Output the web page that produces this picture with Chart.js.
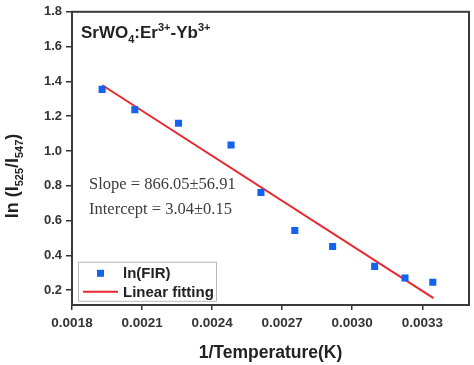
<!DOCTYPE html>
<html>
<head>
<meta charset="utf-8">
<script src="https://cdn.jsdelivr.net/npm/chart.js@4/dist/chart.umd.min.js"></script>
<style>
  html, body { margin: 0; padding: 0; background: #fff; }
  #wrap { width: 474px; height: 365px; }
</style>
</head>
<body>
<div id="wrap"><canvas id="c" width="474" height="365"></canvas></div>
<script>
// ---- data ----
const invT   = [0.001929, 0.002069, 0.002256, 0.002481, 0.002609, 0.002754, 0.002916, 0.003096, 0.003226, 0.003345];
const lnFIR  = [1.354, 1.237, 1.160, 1.035, 0.762, 0.543, 0.451, 0.337, 0.270, 0.246];
const fitX   = [0.001930, 0.003348];
const fitY   = [1.378, 0.155];
const xTicks = [0.0018, 0.0021, 0.0024, 0.0027, 0.0030, 0.0033];
const yTicks = [0.2, 0.4, 0.6, 0.8, 1.0, 1.2, 1.4, 1.6, 1.8];
const seriesNames = ['ln(FIR)', 'Linear fitting'];
const fitNotes = ['Slope = 866.05\u00b156.91', 'Intercept = 3.04\u00b10.15'];

const BLUE = '#1462f0';
const RED = '#e8272e';
const AX = '#333333';
const SANS = '"Liberation Sans", Arial, sans-serif';
const SERIF = '"Liberation Serif", "Times New Roman", serif';

// draw rich text: parts = [[text, 'n'|'sub'|'sup'], ...]
function richText(ctx, x, y, parts, size) {
  let cx = x;
  for (const [t, kind] of parts) {
    if (kind === 'n') {
      ctx.font = 'bold ' + size + 'px ' + SANS;
      ctx.fillText(t, cx, y);
    } else {
      const s = Math.round(size * 0.62);
      ctx.font = 'bold ' + s + 'px ' + SANS;
      const dy = kind === 'sub' ? size * 0.28 : -size * 0.42;
      ctx.fillText(t, cx, y + dy);
    }
    cx += ctx.measureText(t).width;
  }
  return cx - x;
}
function richWidth(ctx, parts, size) {
  let w = 0;
  for (const [t, kind] of parts) {
    const s = kind === 'n' ? size : Math.round(size * 0.62);
    ctx.font = 'bold ' + s + 'px ' + SANS;
    w += ctx.measureText(t).width;
  }
  return w;
}

const decor = {
  id: 'decor',
  afterDraw(chart) {
    const ctx = chart.ctx;
    const a = chart.chartArea;
    ctx.save();
    // frame
    ctx.strokeStyle = '#3a3a3a';
    ctx.lineWidth = 2;
    ctx.strokeRect(a.left, a.top, a.right - a.left, a.bottom - a.top);

    // sample title
    ctx.fillStyle = '#222';
    ctx.textBaseline = 'alphabetic';
    ctx.textAlign = 'left';
    richText(ctx, a.left + 9, a.top + 26, [['SrWO', 'n'], ['4', 'sub'], [':Er', 'n'], ['3+', 'sup'], ['-Yb', 'n'], ['3+', 'sup']], 17);

    // y-axis title (rotated)
    const yParts = [['ln (I', 'n'], ['525', 'sub'], ['/I', 'n'], ['547', 'sub'], [')', 'n']];
    const yw = richWidth(ctx, yParts, 18);
    ctx.save();
    ctx.translate(18, 176);
    ctx.rotate(-Math.PI / 2);
    ctx.fillStyle = '#222';
    richText(ctx, -yw / 2, 0, yParts, 18);
    ctx.restore();

    // fit notes
    ctx.fillStyle = '#3c3c3c';
    ctx.font = '16.5px ' + SERIF;
    ctx.fillText(fitNotes[0], a.left + 17, a.top + 177);
    ctx.fillText(fitNotes[1], a.left + 17, a.top + 202);

    // legend box
    const lx = a.left + 6, ly = a.top + 250, lw = 138, lh = 39;
    ctx.fillStyle = '#fff';
    ctx.fillRect(lx, ly, lw, lh);
    ctx.strokeStyle = '#b8b8b8';
    ctx.lineWidth = 1;
    ctx.strokeRect(lx + 0.5, ly + 0.5, lw, lh);
    const ds0 = chart.data.datasets[0], ds1 = chart.data.datasets[1];
    ctx.fillStyle = ds0.backgroundColor;
    ctx.fillRect(lx + 19, ly + 8, 7, 7);
    ctx.strokeStyle = ds1.borderColor;
    ctx.lineWidth = 2;
    ctx.beginPath();
    ctx.moveTo(lx + 5, ly + 30);
    ctx.lineTo(lx + 40, ly + 30);
    ctx.stroke();
    ctx.fillStyle = '#222';
    ctx.font = 'bold 15px ' + SANS;
    ctx.fillText(ds0.label, lx + 45, ly + 16.5);
    ctx.fillText(ds1.label, lx + 45, ly + 35);
    ctx.restore();
  }
};

new Chart(document.getElementById('c'), {
  type: 'scatter',
  data: {
    datasets: [
      {
        label: seriesNames[0],
        data: invT.map((x, i) => ({ x: x, y: lnFIR[i] })),
        pointStyle: 'rect',
        pointRadius: 5,
        backgroundColor: BLUE,
        borderWidth: 0
      },
      {
        label: seriesNames[1],
        type: 'line',
        data: fitX.map((x, i) => ({ x: x, y: fitY[i] })),
        showLine: true,
        borderColor: RED,
        backgroundColor: RED,
        borderWidth: 2,
        pointRadius: 0,
        fill: false
      }
    ]
  },
  options: {
    responsive: false,
    animation: false,
    events: [],
    layout: { padding: { top: 8, right: 2, left: 0, bottom: 0 } },
    plugins: { legend: { display: false }, tooltip: { enabled: false } },
    scales: {
      x: {
        type: 'linear',
        min: 0.0018,
        max: 0.0035,
        afterBuildTicks(s) { s.ticks = xTicks.map(v => ({ value: v })); },
        afterFit(s) { s.height = 60; },
        border: { display: false },
        grid: { display: true, drawOnChartArea: false, drawTicks: true, tickLength: 5, color: AX, lineWidth: 1.5 },
        ticks: {
          padding: 5,
          color: AX,
          font: { family: SANS, size: 13.5, weight: 'bold' },
          callback: v => Number(v).toFixed(4)
        },
        title: {
          display: true,
          text: '1/Temperature(K)',
          color: '#222',
          font: { family: SANS, size: 17.5, weight: 'bold' },
          padding: { top: 0, bottom: 1 }
        }
      },
      y: {
        type: 'linear',
        min: 0.115,
        max: 1.8,
        afterBuildTicks(s) { s.ticks = yTicks.map(v => ({ value: v })); },
        afterFit(s) { s.width = 72; },
        border: { display: false },
        grid: { display: true, drawOnChartArea: false, drawTicks: true, tickLength: 6, color: AX, lineWidth: 1.5 },
        ticks: {
          padding: 4,
          color: AX,
          font: { family: SANS, size: 13, weight: 'bold' },
          callback: v => Number(v).toFixed(1)
        }
      }
    }
  },
  plugins: [decor]
});
</script>
</body>
</html>
